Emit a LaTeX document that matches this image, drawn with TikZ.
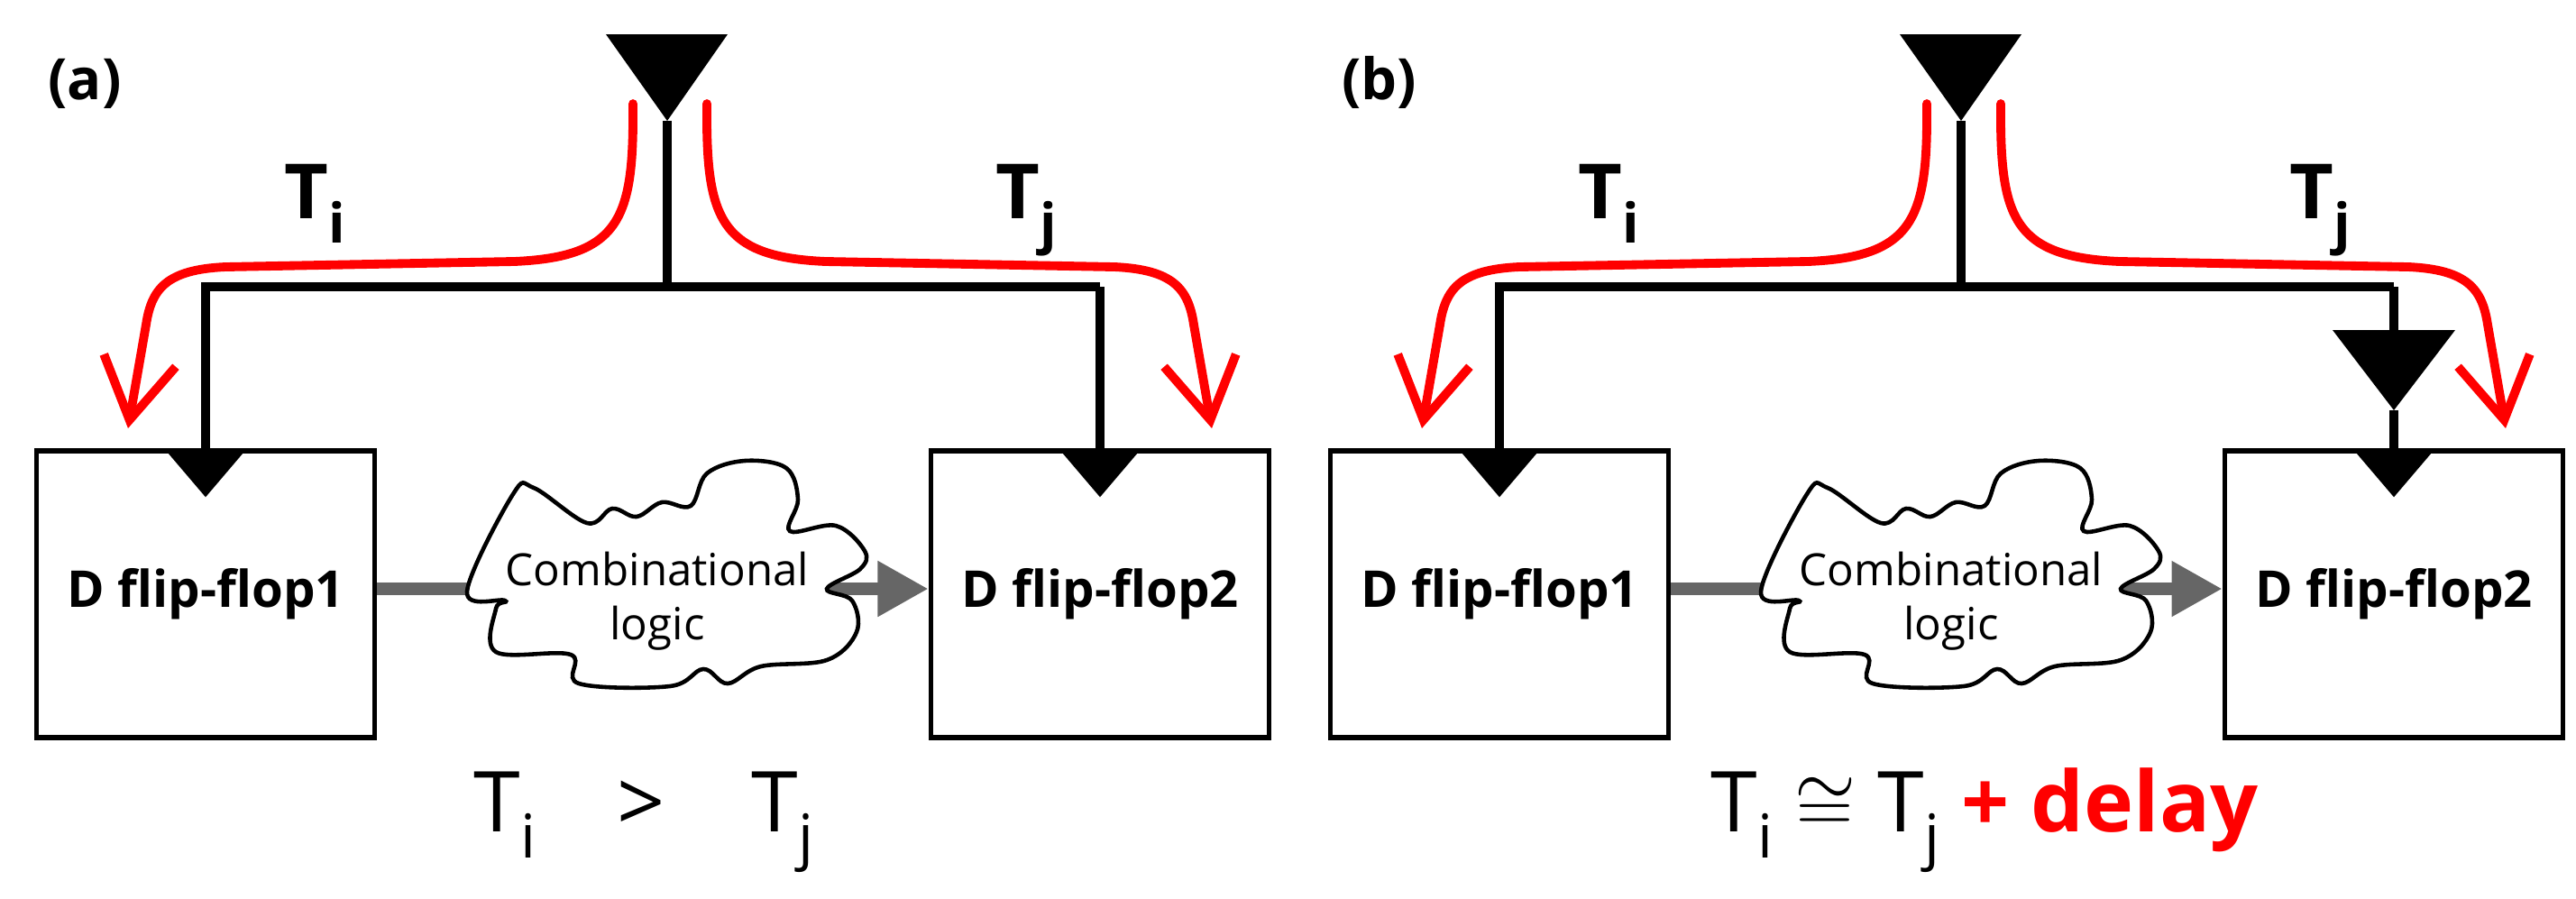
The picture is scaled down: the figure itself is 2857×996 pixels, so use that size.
\documentclass[tikz,border=0pt]{standalone}
\usepackage{fontspec}
\setmainfont{Open Sans}
\usetikzlibrary{arrows.meta}
\newcommand\tsub[1]{\raisebox{-0.32em}{\scalebox{0.72}{#1}}}
\begin{document}
\begin{tikzpicture}[x=0.01cm,y=-0.01cm,
  ff/.style={draw,line width=1.5pt,minimum width=3.75cm,minimum height=3.18cm,inner sep=0pt,
    font=\bfseries\fontsize{16}{19}\selectfont},
  wire/.style={line width=2.6pt},
  clk/.style={fill=black},
  skew/.style={red,line width=2.8pt,line cap=round,
    -{Straight Barb[length=19pt,width=23pt]}},
  data/.style={draw=black!60,line width=4pt,-{Triangle[length=16pt,width=16.5pt]}},
  cloud/.style={draw,fill=white,line width=1.3pt},
  tlabel/.style={anchor=base west,font=\bfseries\fontsize{24}{28}\selectfont},
  eqn/.style={anchor=base,font=\fontsize{26.5}{30}\selectfont}]
\useasboundingbox (0,0) rectangle (2857,996);
\foreach \p/\dx in {a/0,b/1435}{
\begin{scope}[shift={(\dx,0)}]
  \node[anchor=base west,font=\bfseries\fontsize{18}{22}\selectfont] (\p-tag) at (41,110) {(\p)};
  % flip-flops
  \node[ff] (\p-ff1) at (228,659) {D flip-flop1};
  \node[ff] (\p-ff2) at (1220,659) {D flip-flop2};
  % clock source
  \coordinate (\p-src) at (740,134);
  \fill[clk] (672,38) -- (807,38) -- (\p-src) -- cycle;
  \coordinate (\p-fork) at (740,318);
  \draw[wire] (\p-src) -- (\p-fork);
  \draw[wire] (\p-ff1.north) -- (\p-ff1.north |- \p-fork) -- (\p-ff2.north |- \p-fork);
  % clock inputs
  \fill[clk] ([xshift=-0.46cm]\p-ff1.north) -- ([xshift=0.46cm]\p-ff1.north) -- ([yshift=-0.54cm]\p-ff1.north) -- cycle;
  \fill[clk] ([xshift=-0.46cm]\p-ff2.north) -- ([xshift=0.46cm]\p-ff2.north) -- ([yshift=-0.54cm]\p-ff2.north) -- cycle;
  % clock paths
  \draw[skew] (702,115) .. controls (703,240) and (690,285) .. (570,290) -- (250,296)
    .. controls (185,299) and (168,320) .. (162,360) -- (142,475);
  \draw[skew] (784,115) .. controls (783,240) and (796,285) .. (916,290) -- (1236,296)
    .. controls (1301,299) and (1318,320) .. (1324,360) -- (1344,475);
  \node[tlabel] (\p-ti) at (303,242) {T\tsub{i}};
  \node[tlabel] (\p-tj) at (1092,242) {T\tsub{j}};
  % data path
  \draw[data] (\p-ff1.east |- 0,653) -- (\p-ff2.west |- 0,653);
  \draw[cloud] plot[smooth cycle,tension=0.6] coordinates {
    (518,656) (569,548) (592,541) (651,580) (679,564) (706,573) (734,557) (766,561)
    (784,525) (826,511) (872,519) (885,554) (876,589) (927,583) (959,611) (954,631)
    (917,653) (945,666) (950,701) (917,732) (844,739) (807,758) (780,742) (743,761)
    (642,758) (633,726) (550,723) (550,675) (560,666)};
  \node[align=center,font=\fontsize{14}{17}\selectfont] (\p-logic) at (729,667) {Combinational\\logic};
\end{scope}}
% right clock branch
\draw[wire] (a-ff2.north |- a-fork) -- (a-ff2.north);
\coordinate (b-buf) at (2655,455);
\fill[clk] (2587,366) -- (2723,366) -- (b-buf) -- cycle;
\draw[wire] (b-ff2.north |- b-fork) -- (b-ff2.north |- 0,366);
\draw[wire] (b-buf) -- (b-ff2.north);
% relations
\node[eqn] (a-t1) at (560,922) {T\tsub{i}};
\node[eqn] (a-gt) at (711,922) {>};
\node[eqn] (a-t2) at (868,922) {T\tsub{j}};
\node[eqn] (b-eq) at (2201,922) {T\tsub{i} $\cong$ T\tsub{j} \textcolor{red}{\bfseries + delay}};
\end{tikzpicture}
\end{document}
